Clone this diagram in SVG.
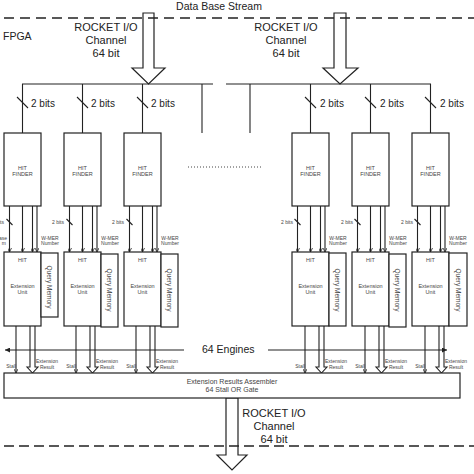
<svg xmlns="http://www.w3.org/2000/svg" width="474" height="474" viewBox="0 0 474 474">
<style>
text{font-family:"Liberation Sans",Arial,sans-serif;fill:#222}
.box{fill:#fff;stroke:#222;stroke-width:1.2}
.ln{stroke:#222;stroke-width:1.1;fill:none}
.big{font-size:11px;text-anchor:middle}
.sm{font-size:5.5px;text-anchor:middle;fill:#444}
.tiny{font-size:5px;fill:#444}
.mid{text-anchor:middle}
.end{text-anchor:end}
.qm{font-family:"Liberation Sans",Arial,sans-serif;font-size:6.5px;text-anchor:middle;fill:#444}
.dash{stroke:#222;stroke-width:1.3;stroke-dasharray:10 6;fill:none}
.barrow{fill:#fff;stroke:#222;stroke-width:1.2}
</style>
<defs>
<marker id="ah" viewBox="0 0 6 6" refX="6" refY="3" markerWidth="4" markerHeight="4" orient="auto" markerUnits="userSpaceOnUse">
<path d="M0,0 L6,3 L0,6" fill="none" stroke="#222" stroke-width="1.2"/>
</marker>
<marker id="ahf" viewBox="0 0 6 6" refX="6" refY="3" markerWidth="5" markerHeight="5" orient="auto" markerUnits="userSpaceOnUse">
<path d="M0,0 L6,3 L0,6 z" fill="#222"/>
</marker>
</defs>
<rect width="474" height="474" fill="#fff"/>

<text x="219" y="10" style="font-size:10.5px" class="mid">Data Base Stream</text>
<text x="3" y="40" style="font-size:10.5px">FPGA</text>
<text class="big" x="106" y="31">ROCKET I/O</text>
<text class="big" x="106" y="44">Channel</text>
<text class="big" x="106" y="57">64 bit</text>
<text class="big" x="286" y="31">ROCKET I/O</text>
<text class="big" x="286" y="44">Channel</text>
<text class="big" x="286" y="57">64 bit</text>

<g id="rocket-in-left"><polygon class="barrow" points="143,13 154,13 154,68 165,68 148.5,84 132,68 143,68"/></g>
<g id="rocket-in-right"><polygon class="barrow" points="334,13 346,13 346,68 358,68 340,84 323,68 334,68"/></g>
<g id="rocket-out"><polygon class="barrow" points="226,398 238,398 238,455 247,455 232,470 217,455 226,455"/></g>
<line class="dash" x1="4" y1="18" x2="474" y2="18"/>
<line class="dash" x1="4" y1="446" x2="474" y2="446" style="stroke-dasharray:10 5"/>

<g id="connectors">
<line class="ln" x1="22" y1="84" x2="213" y2="84"/>
<line class="ln" x1="226" y1="84" x2="431" y2="84"/>
<line class="ln" x1="22.5" y1="84" x2="22.5" y2="133"/>
<line class="ln" x1="82.5" y1="84" x2="82.5" y2="133"/>
<line class="ln" x1="142.5" y1="84" x2="142.5" y2="133"/>
<line class="ln" x1="202" y1="84" x2="202" y2="133"/>
<line class="ln" x1="250" y1="84" x2="250" y2="133"/>
<line class="ln" x1="310.5" y1="84" x2="310.5" y2="133"/>
<line class="ln" x1="370.5" y1="84" x2="370.5" y2="133"/>
<line class="ln" x1="430.5" y1="84" x2="430.5" y2="133"/>
<g class="ln">
<line x1="17" y1="97" x2="28" y2="108"/><line x1="77" y1="97" x2="88" y2="108"/><line x1="137" y1="97" x2="148" y2="108"/>
<line x1="305" y1="97" x2="316" y2="108"/><line x1="365" y1="97" x2="376" y2="108"/><line x1="425" y1="97" x2="436" y2="108"/>
</g>
<g style="font-size:10px">
<text x="31" y="107">2 bits</text><text x="91" y="107">2 bits</text><text x="151" y="107">2 bits</text>
<text x="320" y="107">2 bits</text><text x="380" y="107">2 bits</text><text x="440" y="107">2 bits</text>
</g>
<line x1="188" y1="167" x2="263" y2="167" stroke="#444" stroke-width="1" stroke-dasharray="1 2"/>
<line class="ln" x1="184" y1="350" x2="5" y2="350" marker-end="url(#ahf)"/>
<line class="ln" x1="268" y1="350" x2="447" y2="350" marker-end="url(#ahf)"/>
<text x="202" y="353" style="font-size:10.5px">64 Engines</text>
</g>

<g id="engine1">
<rect class="box" x="4" y="133" width="37" height="73"/>
<text class="sm" x="22.5" y="170">HIT</text><text class="sm" x="22.5" y="176">FINDER</text>
<g class="ln">
<line x1="9.5" y1="206" x2="9.5" y2="252" marker-end="url(#ah)"/><line x1="22.5" y1="206" x2="22.5" y2="252" marker-end="url(#ah)"/>
<line x1="32.5" y1="206" x2="32.5" y2="252" marker-end="url(#ah)"/><line x1="37" y1="206" x2="37" y2="252" marker-end="url(#ah)"/>
<line x1="6.5" y1="219" x2="12.5" y2="225"/>
</g>
<text class="tiny end" x="4" y="224">2 bits</text>
<text class="tiny end" x="7" y="240">ase</text><text class="tiny end" x="6" y="245">m</text>
<text class="tiny mid" x="50" y="240">W-MER</text><text class="tiny mid" x="50" y="245">Number</text>
<rect class="box" x="4" y="252" width="37" height="74"/>
<rect class="box" x="41" y="253" width="17" height="64"/>
<text class="sm" x="22.5" y="262">HIT</text><text class="sm" x="22.5" y="288">Extension</text><text class="sm" x="22.5" y="294">Unit</text>
<text class="qm" transform="translate(49.5,287) rotate(90)" y="2.3">Query Memory</text>
<line class="ln" x1="16" y1="326" x2="16" y2="373" marker-end="url(#ah)"/>
<path class="ln" d="M30,326 V367 H27 L32.5,373 L38,367 H35 V326"/>
<text class="tiny end" x="16" y="368">Stall</text>
<text class="tiny mid" x="47" y="363">Extension</text><text class="tiny mid" x="47" y="369">Result</text>
</g>

<g id="engine2" transform="translate(60,0)">
<rect class="box" x="4" y="133" width="37" height="73"/>
<text class="sm" x="22.5" y="170">HIT</text><text class="sm" x="22.5" y="176">FINDER</text>
<g class="ln">
<line x1="9.5" y1="206" x2="9.5" y2="252" marker-end="url(#ah)"/><line x1="22.5" y1="206" x2="22.5" y2="252" marker-end="url(#ah)"/>
<line x1="32.5" y1="206" x2="32.5" y2="252" marker-end="url(#ah)"/><line x1="37" y1="206" x2="37" y2="252" marker-end="url(#ah)"/>
<line x1="6.5" y1="219" x2="12.5" y2="225"/>
</g>
<text class="tiny end" x="4" y="224">2 bits</text>
<text class="tiny mid" x="50" y="240">W-MER</text><text class="tiny mid" x="50" y="245">Number</text>
<rect class="box" x="4" y="252" width="37" height="74"/>
<rect class="box" x="41" y="254" width="17" height="73"/>
<text class="sm" x="22.5" y="262">HIT</text><text class="sm" x="22.5" y="288">Extension</text><text class="sm" x="22.5" y="294">Unit</text>
<text class="qm" transform="translate(49.5,290) rotate(90)" y="2.3">Query Memory</text>
<line class="ln" x1="16" y1="326" x2="16" y2="373" marker-end="url(#ah)"/>
<path class="ln" d="M30,326 V367 H27 L32.5,373 L38,367 H35 V326"/>
<text class="tiny end" x="16" y="368">Stall</text>
<text class="tiny mid" x="47" y="363">Extension</text><text class="tiny mid" x="47" y="369">Result</text>
</g>

<g id="engine3" transform="translate(120,0)">
<rect class="box" x="4" y="133" width="37" height="73"/>
<text class="sm" x="22.5" y="170">HIT</text><text class="sm" x="22.5" y="176">FINDER</text>
<g class="ln">
<line x1="9.5" y1="206" x2="9.5" y2="252" marker-end="url(#ah)"/><line x1="22.5" y1="206" x2="22.5" y2="252" marker-end="url(#ah)"/>
<line x1="32.5" y1="206" x2="32.5" y2="252" marker-end="url(#ah)"/><line x1="37" y1="206" x2="37" y2="252" marker-end="url(#ah)"/>
<line x1="6.5" y1="219" x2="12.5" y2="225"/>
</g>
<text class="tiny end" x="4" y="224">2 bits</text>
<text class="tiny mid" x="50" y="240">W-MER</text><text class="tiny mid" x="50" y="245">Number</text>
<rect class="box" x="4" y="252" width="37" height="74"/>
<rect class="box" x="41" y="254" width="17" height="73"/>
<text class="sm" x="22.5" y="262">HIT</text><text class="sm" x="22.5" y="288">Extension</text><text class="sm" x="22.5" y="294">Unit</text>
<text class="qm" transform="translate(49.5,290) rotate(90)" y="2.3">Query Memory</text>
<line class="ln" x1="16" y1="326" x2="16" y2="373" marker-end="url(#ah)"/>
<path class="ln" d="M30,326 V367 H27 L32.5,373 L38,367 H35 V326"/>
<text class="tiny end" x="16" y="368">Stall</text>
<text class="tiny mid" x="47" y="363">Extension</text><text class="tiny mid" x="47" y="369">Result</text>
</g>

<g id="engine4" transform="translate(288,0)">
<rect class="box" x="4" y="133" width="37" height="73"/>
<text class="sm" x="22.5" y="170">HIT</text><text class="sm" x="22.5" y="176">FINDER</text>
<g class="ln">
<line x1="9.5" y1="206" x2="9.5" y2="252" marker-end="url(#ah)"/><line x1="22.5" y1="206" x2="22.5" y2="252" marker-end="url(#ah)"/>
<line x1="32.5" y1="206" x2="32.5" y2="252" marker-end="url(#ah)"/><line x1="37" y1="206" x2="37" y2="252" marker-end="url(#ah)"/>
<line x1="6.5" y1="219" x2="12.5" y2="225"/>
</g>
<text class="tiny end" x="5" y="224">2 bits</text>
<text class="tiny mid" x="50" y="240">W-MER</text><text class="tiny mid" x="50" y="245">Number</text>
<rect class="box" x="4" y="252" width="37" height="74"/>
<rect class="box" x="41" y="253" width="17" height="73"/>
<text class="sm" x="22.5" y="262">HIT</text><text class="sm" x="22.5" y="288">Extension</text><text class="sm" x="22.5" y="294">Unit</text>
<text class="qm" transform="translate(49.5,290) rotate(90)" y="2.3">Query Memory</text>
<line class="ln" x1="17" y1="326" x2="17" y2="373" marker-end="url(#ah)"/>
<path class="ln" d="M31,326 V367 H28 L33.5,373 L39,367 H36 V326"/>
<text class="tiny end" x="17" y="368">Stall</text>
<text class="tiny mid" x="48" y="363">Extension</text><text class="tiny mid" x="48" y="369">Result</text>
</g>

<g id="engine5" transform="translate(348,0)">
<rect class="box" x="4" y="133" width="37" height="73"/>
<text class="sm" x="22.5" y="170">HIT</text><text class="sm" x="22.5" y="176">FINDER</text>
<g class="ln">
<line x1="9.5" y1="206" x2="9.5" y2="252" marker-end="url(#ah)"/><line x1="22.5" y1="206" x2="22.5" y2="252" marker-end="url(#ah)"/>
<line x1="32.5" y1="206" x2="32.5" y2="252" marker-end="url(#ah)"/><line x1="37" y1="206" x2="37" y2="252" marker-end="url(#ah)"/>
<line x1="6.5" y1="219" x2="12.5" y2="225"/>
</g>
<text class="tiny end" x="5" y="224">2 bits</text>
<text class="tiny mid" x="50" y="240">W-MER</text><text class="tiny mid" x="50" y="245">Number</text>
<rect class="box" x="4" y="252" width="37" height="74"/>
<rect class="box" x="41" y="254" width="17" height="73"/>
<text class="sm" x="22.5" y="262">HIT</text><text class="sm" x="22.5" y="288">Extension</text><text class="sm" x="22.5" y="294">Unit</text>
<text class="qm" transform="translate(49.5,290) rotate(90)" y="2.3">Query Memory</text>
<line class="ln" x1="17" y1="326" x2="17" y2="373" marker-end="url(#ah)"/>
<path class="ln" d="M31,326 V367 H28 L33.5,373 L39,367 H36 V326"/>
<text class="tiny end" x="17" y="368">Stall</text>
<text class="tiny mid" x="48" y="363">Extension</text><text class="tiny mid" x="48" y="369">Result</text>
</g>

<g id="engine6" transform="translate(408,0)">
<rect class="box" x="4" y="133" width="37" height="73"/>
<text class="sm" x="22.5" y="170">HIT</text><text class="sm" x="22.5" y="176">FINDER</text>
<g class="ln">
<line x1="9.5" y1="206" x2="9.5" y2="252" marker-end="url(#ah)"/><line x1="22.5" y1="206" x2="22.5" y2="252" marker-end="url(#ah)"/>
<line x1="32.5" y1="206" x2="32.5" y2="252" marker-end="url(#ah)"/><line x1="37" y1="206" x2="37" y2="252" marker-end="url(#ah)"/>
<line x1="6.5" y1="219" x2="12.5" y2="225"/>
</g>
<text class="tiny end" x="5" y="224">2 bits</text>
<text class="tiny mid" x="50" y="240">W-MER</text><text class="tiny mid" x="50" y="245">Number</text>
<rect class="box" x="4" y="252" width="37" height="74"/>
<rect class="box" x="41" y="253" width="18" height="73"/>
<text class="sm" x="22.5" y="262">HIT</text><text class="sm" x="22.5" y="288">Extension</text><text class="sm" x="22.5" y="294">Unit</text>
<text class="qm" transform="translate(50,290) rotate(90)" y="2.3">Query Memory</text>
<line class="ln" x1="17" y1="326" x2="17" y2="373" marker-end="url(#ah)"/>
<path class="ln" d="M31,326 V367 H28 L33.5,373 L39,367 H36 V326"/>
<text class="tiny end" x="17" y="368">Stall</text>
<text class="tiny mid" x="48" y="363">Extension</text><text class="tiny mid" x="48" y="369">Result</text>
</g>

<g id="assembler">
<rect class="box" x="4" y="373" width="456" height="25"/>
<text class="sm" style="font-size:7px" x="232" y="384">Extension Results Assembler</text>
<text class="sm" style="font-size:7px" x="232" y="392">64 Stall OR Gate</text>
</g>

<text class="big" x="274" y="417">ROCKET I/O</text>
<text class="big" x="274" y="430">Channel</text>
<text class="big" x="274" y="443">64 bit</text>
</svg>
